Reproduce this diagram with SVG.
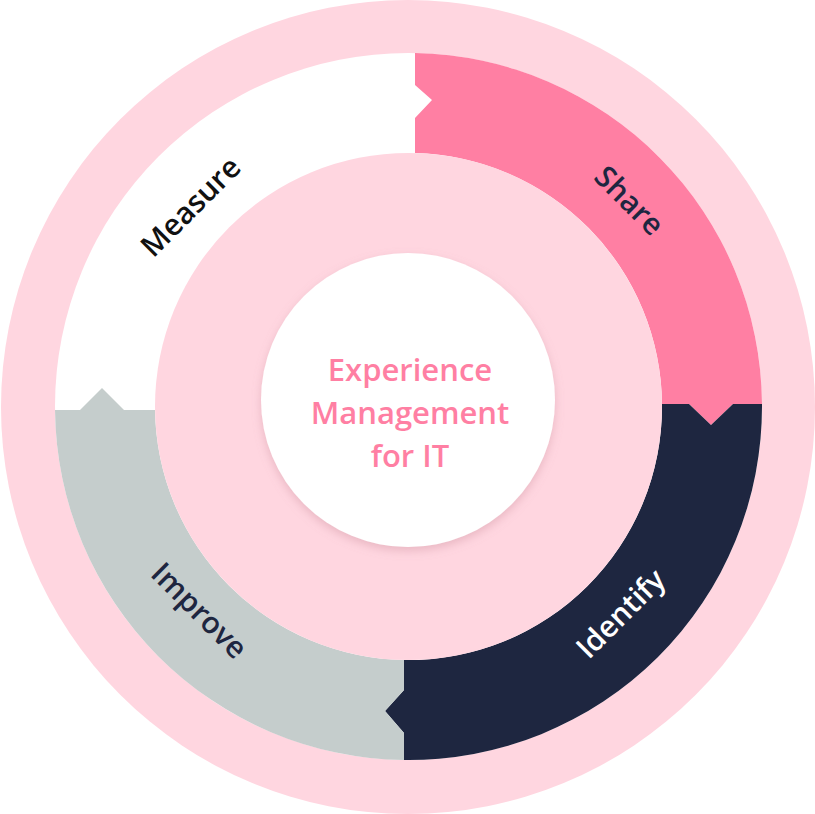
<svg xmlns="http://www.w3.org/2000/svg" width="815" height="814" viewBox="0 0 815 814">
<style>
.lbl{font-family:"Open Sans","Liberation Sans",sans-serif;font-size:30px;font-weight:600;text-anchor:middle}
.ctr{font-family:"Open Sans","Liberation Sans",sans-serif;font-size:31px;font-weight:600;fill:#FF7FA3;text-anchor:middle}
</style>
<defs>
<filter id="sh" x="-20%" y="-20%" width="140%" height="140%"><feDropShadow dx="0" dy="4" stdDeviation="5" flood-color="#c0808f" flood-opacity="0.35"/></filter>
</defs>
<circle cx="408" cy="407" r="407" fill="#FFD6E0"/>
<circle cx="408.5" cy="406.5" r="353.5" fill="#FFFFFF"/>
<g id="connectors"></g>
<g id="share"><path d="M415,153 L415,118 L432,100 L415,85 L415,53 A353.5,353.5 0 0 1 762,404 L733,404 L711,425 L689,404 L662,404 A253.5,253.5 0 0 0 415,153 Z" fill="#FF7FA3"/>
<text class="lbl" fill="#1E2640" transform="translate(622,208) rotate(45)">Share</text></g>
<g id="identify"><path d="M762,404 A353.5,353.5 0 0 1 404,760 L404,733 L385,711 L404,690 L404,660 A253.5,253.5 0 0 0 662,404 L689,404 L711,425 L733,404 Z" fill="#1E2640"/>
<text class="lbl" fill="#FFFFFF" transform="translate(628,621) rotate(-45)">Identify</text></g>
<g id="improve"><path d="M404,760 A353.5,353.5 0 0 1 55,410 L80,410 L102,388 L124,410 L155,410 A253.5,253.5 0 0 0 404,660 L404,690 L385,711 L404,733 Z" fill="#C5CDCC"/>
<text class="lbl" fill="#1E2640" transform="translate(192,618) rotate(45)">Improve</text></g>
<g id="measure"><text class="lbl" fill="#111111" transform="translate(198,214) rotate(-45)">Measure</text></g>
<circle cx="408.5" cy="406.5" r="253.5" fill="#FFD6E0"/>
<g id="center"><circle cx="408" cy="400" r="147" fill="#FFFFFF" filter="url(#sh)"/>
<text class="ctr" x="410" y="381">Experience</text>
<text class="ctr" x="410" y="424">Management</text>
<text class="ctr" x="410" y="467">for IT</text></g>
</svg>
